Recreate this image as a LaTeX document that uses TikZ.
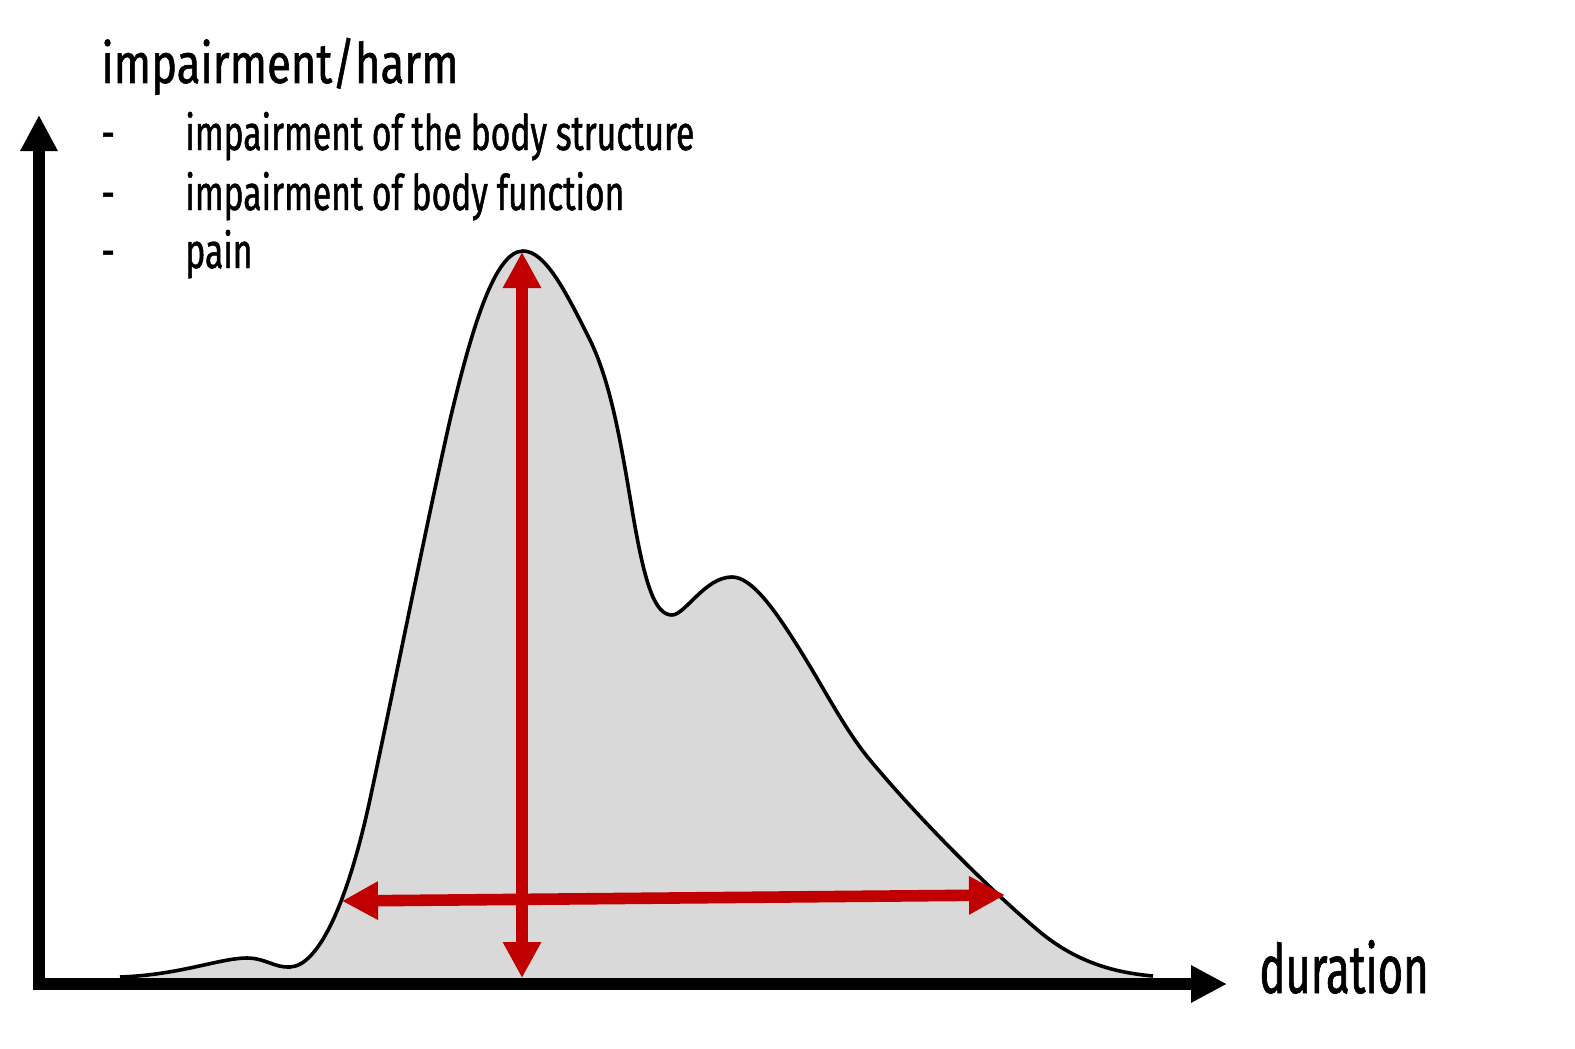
\documentclass[tikz,border=0pt]{standalone}
\usepackage{fontspec}
\setmainfont{Fira Sans}
\newfontfamily\headfont{Fira Sans}[FakeStretch=0.78, FakeBold=1]
\newfontfamily\listfont{Fira Sans}[FakeStretch=0.686, FakeBold=1]
\newfontfamily\durfont{Fira Sans}[FakeStretch=0.64, FakeBold=1]
\usetikzlibrary{arrows.meta}
\definecolor{areagray}{HTML}{D9D9D9}
\definecolor{arrowred}{HTML}{C00000}
\tikzset{
  axisline/.style={line width=6pt, line join=miter},
  redarrow/.style={arrowred, line width=5.8pt, {Triangle[width=18pt,length=18pt]}-{Triangle[width=18pt,length=18pt]}},
  curveline/.style={line width=1.8pt, line join=round},
  headtext/.style={anchor=base west, inner sep=0pt, font=\headfont\fontsize{28pt}{33pt}\selectfont},
  listtext/.style={anchor=base west, inner sep=0pt, font=\listfont\fontsize{24.5pt}{29pt}\selectfont},
  durtext/.style={anchor=base west, inner sep=0pt, font=\durfont\fontsize{34pt}{40pt}\selectfont}
}
\def\curvepath{(120,977) .. controls (180,975) and (220,958) .. (247,958)
  .. controls (265,958) and (275,968) .. (290,967)
  .. controls (318,966) and (348,905) .. (372,790)
  .. controls (392,697) and (428,517) .. (450,420)
  .. controls (472,327) and (495,251) .. (523,251)
  .. controls (545,251) and (565,290) .. (590,340)
  .. controls (612,385) and (622,450) .. (633,515)
  .. controls (645,585) and (655,615) .. (672,615)
  .. controls (685,615) and (705,577) .. (732,577)
  .. controls (752,577) and (775,610) .. (800,650)
  .. controls (825,690) and (845,730) .. (870,760)
  .. controls (920,820) and (990,890) .. (1040,932)
  .. controls (1080,965) and (1120,973) .. (1153,976)}
\begin{document}
\begin{tikzpicture}[x=0.5pt,y=-0.5pt]
\useasboundingbox (0,0) rectangle (1575,1049);
% coordinates
\coordinate (origin) at (39,984);
\coordinate (ytip) at (39,115);
\coordinate (xtip) at (1227,984);
\coordinate (vtop) at (522,252);
\coordinate (vbot) at (522,978);
\coordinate (hleft) at (342,901);
\coordinate (hright) at (1005,895);
% area under curve
\fill[areagray] \curvepath -- (1153,978) -- (120,978) -- cycle;
\draw[curveline] \curvepath;
% red arrows
\draw[redarrow] (vbot) -- (vtop);
\draw[redarrow] (hleft) -- (hright);
% axes
\draw[axisline, {Triangle[width=17.5pt,length=18pt]}-{Triangle[width=17.5pt,length=18pt]}] (ytip) -- (origin) -- (xtip);
% texts
\node[headtext] (title) at (101,83) {impairment/harm};
\node[listtext] (d1) at (101,150) {-};
\node[listtext] (d2) at (101,210) {-};
\node[listtext] (d3) at (101,268) {-};
\node[listtext] (t1) at (185,150) {impairment of the body structure};
\node[listtext] (t2) at (185,210) {impairment of body function};
\node[listtext] (t3) at (185,268) {pain};
\node[durtext] (dur) at (1259,993) {duration};
\end{tikzpicture}
\end{document}
